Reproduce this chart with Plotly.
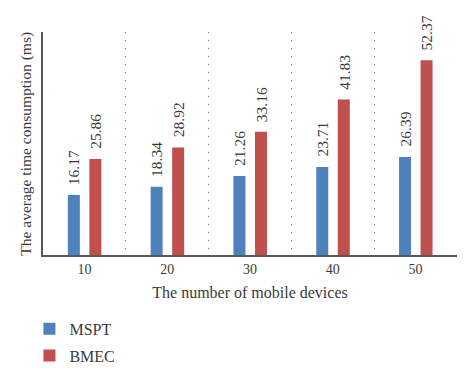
import plotly.graph_objects as go

devices = [10, 20, 30, 40, 50]
mspt = [16.17, 18.34, 21.26, 23.71, 26.39]
bmec = [25.86, 28.92, 33.16, 41.83, 52.37]
series_names = ["MSPT", "BMEC"]
x_title = "The number of mobile devices"
y_title = "The average time consumption (ms)"

FONT = "Liberation Serif"
TXT = "#3a3a3a"
BAR_W = 1.45
OFFSETS = [-2.0, 0.6]
COLORS = ["#4F81BD", "#C0504D"]

fig = go.Figure()
annotations = []
for name, vals, off, col, grp in zip(series_names, [mspt, bmec], OFFSETS, COLORS, ["a", "b"]):
    fig.add_trace(go.Bar(
        x=devices, y=vals, name=name, width=BAR_W, offset=off,
        marker=dict(color=col, line=dict(width=0)),
        legendgroup=grp, hoverinfo="x+y",
    ))
    for d, v in zip(devices, vals):
        annotations.append(dict(
            x=d + off + BAR_W / 2, y=v, xref="x", yref="y",
            text=f"{v:.2f}", textangle=-90, showarrow=False,
            xanchor="center", yanchor="bottom", yshift=8,
            font=dict(family=FONT, size=15.5, color=TXT),
        ))

annotations.append(dict(
    x=-0.043, y=0.5, xref="paper", yref="paper", text=y_title, textangle=-90,
    showarrow=False, xanchor="center", yanchor="middle",
    font=dict(family=FONT, size=15.5, color=TXT),
))

fig.update_layout(
    width=466, height=371,
    margin=dict(l=35, r=17, t=24, b=124, autoexpand=False),
    paper_bgcolor="white", plot_bgcolor="white",
    barmode="overlay",
    font=dict(family=FONT, color=TXT, size=14),
    showlegend=True,
    annotations=annotations,
    legend=dict(xref="container", yref="container", x=0.046, xanchor="left",
                y=0.181, yanchor="top",
                orientation="v", font=dict(size=16, family=FONT, color=TXT),
                tracegroupgap=3, bgcolor="rgba(0,0,0,0)"),
    xaxis=dict(
        range=[5, 55], tickvals=devices, ticktext=[str(d) for d in devices],
        showgrid=False, zeroline=False, showline=True, linecolor="#595959", linewidth=1.5,
        ticks="", tickfont=dict(size=14, family=FONT, color=TXT),
        minor=dict(tick0=5, dtick=10, showgrid=True, gridcolor="#707070",
                   griddash="1px,7px", gridwidth=1.3, ticks=""),
        title=dict(text=x_title, font=dict(size=16, family=FONT, color=TXT), standoff=11),
    ),
    yaxis=dict(
        range=[0, 60], showticklabels=False, showgrid=False, zeroline=False,
        showline=True, linecolor="#595959", linewidth=1.5, ticks="",
    ),
)

fig.write_html("out.html")
